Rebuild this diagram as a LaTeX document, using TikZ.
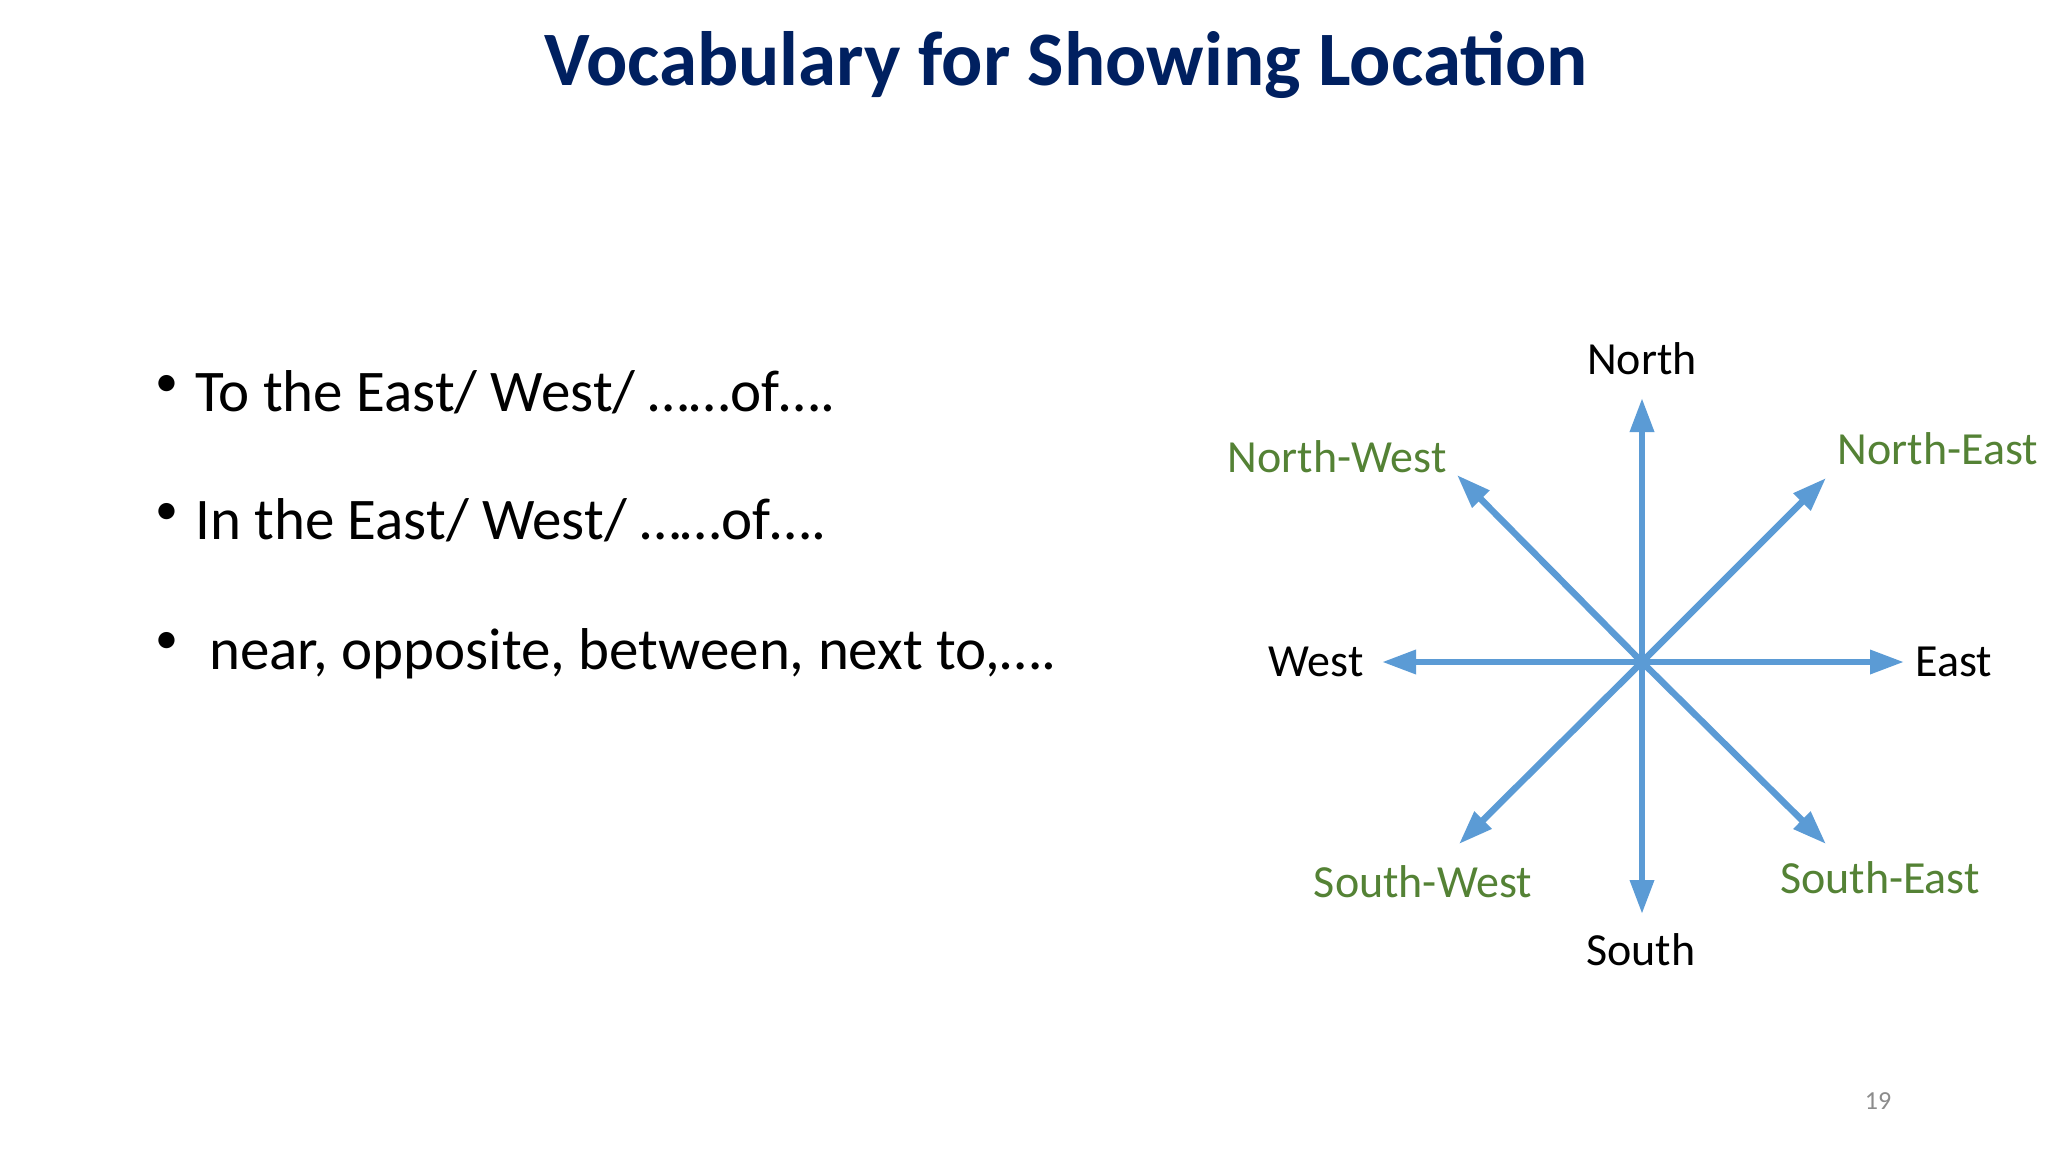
\documentclass[tikz,border=0pt]{standalone}
\usepackage{fontspec}
\setmainfont{Carlito}
\usetikzlibrary{arrows.meta}
\definecolor{navy}{HTML}{002060}
\definecolor{arrowblue}{HTML}{5B9BD5}
\definecolor{dirgreen}{HTML}{548235}
\definecolor{pagegray}{HTML}{8C8C8C}
\tikzset{
  titletext/.style={inner sep=0pt, anchor=base, text=navy, font=\fontsize{77}{92}\selectfont\bfseries},
  bodytext/.style={inner sep=0pt, anchor=base west, font=\fontsize{59}{70}\selectfont},
  bulletdot/.style={inner sep=0pt, anchor=center, font=\fontsize{46}{56}\selectfont},
  maindir/.style={inner sep=0pt, anchor=base, text=black, font=\fontsize{46}{56}\selectfont},
  subdir/.style={inner sep=0pt, anchor=base, text=dirgreen, font=\fontsize{46}{56}\selectfont},
  comparrow/.style={draw=arrowblue, line width=6.5pt, -{Triangle[length=34pt,width=23pt]}},
  pagenum/.style={inner sep=0pt, anchor=base, text=pagegray, font=\fontsize{26}{30}\selectfont}
}
\begin{document}
\begin{tikzpicture}[x=1pt,y=-1pt]
\fill[white] (0,0) rectangle (2048,1152);
\useasboundingbox (0,0) rectangle (2048,1152);

\node[titletext] (title) at (1066,85) {Vocabulary for Showing Location};

\node[bulletdot] (b1) at (167,386) {•};
\node[bodytext] (t1) at (195,411) {To the East/ West/ ……of….};
\node[bulletdot] (b2) at (167,514) {•};
\node[bodytext] (t2) at (195,539) {In the East/ West/ ……of….};
\node[bulletdot] (b3) at (167,643) {•};
\node[bodytext] (t3) at (209,669) {near, opposite, between, next to,….};

\coordinate (c) at (1642,662);
\coordinate (tn) at (1642,398);
\coordinate (ts) at (1642,914);
\coordinate (tw) at (1382,662);
\coordinate (te) at (1904,662);
\coordinate (tnw) at (1457,475);
\coordinate (tne) at (1826,478);
\coordinate (tsw) at (1459,844);
\coordinate (tse) at (1826,844);

\draw[comparrow] (c) -- (tn);
\draw[comparrow] (c) -- (ts);
\draw[comparrow] (c) -- (tw);
\draw[comparrow] (c) -- (te);
\draw[comparrow] (c) -- (tnw);
\draw[comparrow] (c) -- (tne);
\draw[comparrow] (c) -- (tsw);
\draw[comparrow] (c) -- (tse);

\node[maindir] (north) at (1642,374) {North};
\node[maindir] (south) at (1641,965) {South};
\node[maindir] (west) at (1316,676) {West};
\node[maindir] (east) at (1954,676) {East};
\node[subdir] (nw) at (1337,472) {North-West};
\node[subdir] (ne) at (1938,464) {North-East};
\node[subdir] (sw) at (1423,897) {South-West};
\node[subdir] (se) at (1880,893) {South-East};

\node[pagenum] (page) at (1878,1109) {19};
\end{tikzpicture}
\end{document}
